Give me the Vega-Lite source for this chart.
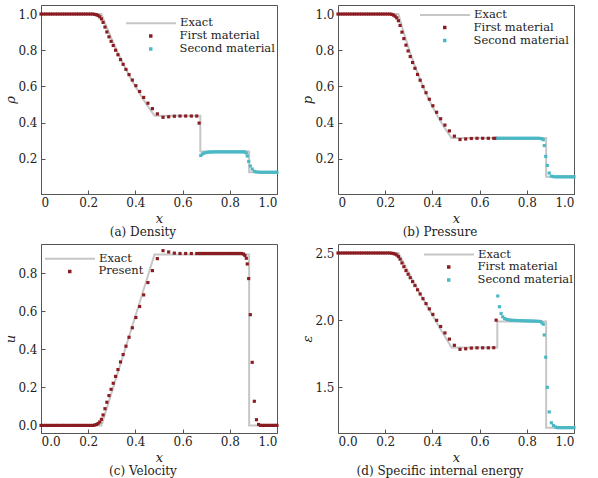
{
  "$schema": "https://vega.github.io/schema/vega-lite/v6.json",
  "padding": {"left": 4, "top": 4, "right": 5, "bottom": 0},
  "config": {
    "font": "DejaVu Serif",
    "view": {"stroke": "#555555", "strokeWidth": 1},
    "axis": {
      "grid": false,
      "domain": false,
      "tickSize": -4,
      "tickColor": "#555555",
      "labelFont": "DejaVu Serif",
      "labelFontSize": 12,
      "labelColor": "#222222",
      "titleFont": "DejaVu Serif",
      "titleFontSize": 13,
      "titleFontStyle": "italic",
      "titleFontWeight": "normal",
      "titleColor": "#222222"
    },
    "axisX": {"labelPadding": 7, "titlePadding": 4},
    "axisY": {"labelPadding": 8, "titlePadding": 0},
    "legend": {
      "labelFont": "DejaVu Serif",
      "labelFontSize": 11.5,
      "labelColor": "#222222",
      "rowPadding": 0,
      "padding": 0,
      "clipHeight": 12.6
    },
    "title": {
      "font": "DejaVu Serif",
      "fontSize": 12,
      "fontWeight": "normal",
      "color": "#222222",
      "orient": "bottom",
      "anchor": "middle",
      "frame": "bounds",
      "offset": 2
    }
  },
  "datasets": {
    "exact": [
      {"i": 0, "x": 0, "rho": 1, "p": 1, "u": 0, "e": 2.5},
      {"i": 1, "x": 0.256, "rho": 1, "p": 1, "u": 0, "e": 2.5},
      {"i": 2, "x": 0.275, "rho": 0.9374, "p": 0.9135, "u": 0.076, "e": 2.436},
      {"i": 3, "x": 0.3, "rho": 0.8599, "p": 0.8095, "u": 0.176, "e": 2.353},
      {"i": 4, "x": 0.325, "rho": 0.7875, "p": 0.7157, "u": 0.276, "e": 2.272},
      {"i": 5, "x": 0.35, "rho": 0.7201, "p": 0.6314, "u": 0.376, "e": 2.192},
      {"i": 6, "x": 0.375, "rho": 0.6574, "p": 0.5559, "u": 0.476, "e": 2.114},
      {"i": 7, "x": 0.4, "rho": 0.5991, "p": 0.4881, "u": 0.576, "e": 2.037},
      {"i": 8, "x": 0.425, "rho": 0.5451, "p": 0.4276, "u": 0.676, "e": 1.961},
      {"i": 9, "x": 0.45, "rho": 0.495, "p": 0.3737, "u": 0.776, "e": 1.887},
      {"i": 10, "x": 0.481, "rho": 0.438, "p": 0.315, "u": 0.9, "e": 1.797},
      {"i": 11, "x": 0.675, "rho": 0.438, "p": 0.315, "u": 0.9, "e": 1.797},
      {"i": 12, "x": 0.675, "rho": 0.24, "p": 0.315, "u": 0.9, "e": 1.99},
      {"i": 13, "x": 0.882, "rho": 0.24, "p": 0.315, "u": 0.9, "e": 1.99},
      {"i": 14, "x": 0.882, "rho": 0.125, "p": 0.1, "u": 0, "e": 1.2},
      {"i": 15, "x": 1.0, "rho": 0.125, "p": 0.1, "u": 0, "e": 1.2}
    ],
    "cells": [
      {"x": 0.0, "rho": 1, "p": 1, "u": 0, "e": 2.5, "m": "First material"},
      {"x": 0.01, "rho": 1, "p": 1, "u": 0, "e": 2.5, "m": "First material"},
      {"x": 0.02, "rho": 1, "p": 1, "u": 0, "e": 2.5, "m": "First material"},
      {"x": 0.03, "rho": 1, "p": 1, "u": 0, "e": 2.5, "m": "First material"},
      {"x": 0.04, "rho": 1, "p": 1, "u": 0, "e": 2.5, "m": "First material"},
      {"x": 0.05, "rho": 1, "p": 1, "u": 0, "e": 2.5, "m": "First material"},
      {"x": 0.06, "rho": 1, "p": 1, "u": 0, "e": 2.5, "m": "First material"},
      {"x": 0.07, "rho": 1, "p": 1, "u": 0, "e": 2.5, "m": "First material"},
      {"x": 0.08, "rho": 1, "p": 1, "u": 0, "e": 2.5, "m": "First material"},
      {"x": 0.09, "rho": 1, "p": 1, "u": 0, "e": 2.5, "m": "First material"},
      {"x": 0.1, "rho": 1, "p": 1, "u": 0, "e": 2.5, "m": "First material"},
      {"x": 0.11, "rho": 1, "p": 1, "u": 0, "e": 2.5, "m": "First material"},
      {"x": 0.12, "rho": 1, "p": 1, "u": 0, "e": 2.5, "m": "First material"},
      {"x": 0.13, "rho": 1, "p": 1, "u": 0, "e": 2.5, "m": "First material"},
      {"x": 0.14, "rho": 1, "p": 1, "u": 0, "e": 2.5, "m": "First material"},
      {"x": 0.15, "rho": 1, "p": 1, "u": 0, "e": 2.5, "m": "First material"},
      {"x": 0.16, "rho": 1, "p": 1, "u": 0, "e": 2.5, "m": "First material"},
      {"x": 0.17, "rho": 1, "p": 1, "u": 0, "e": 2.5, "m": "First material"},
      {"x": 0.18, "rho": 1, "p": 1, "u": 0, "e": 2.5, "m": "First material"},
      {"x": 0.19, "rho": 1, "p": 1, "u": 0, "e": 2.5, "m": "First material"},
      {"x": 0.2, "rho": 1, "p": 1, "u": 0, "e": 2.5, "m": "First material"},
      {"x": 0.21, "rho": 1, "p": 1, "u": 0, "e": 2.5, "m": "First material"},
      {"x": 0.22, "rho": 1, "p": 1, "u": 0, "e": 2.5, "m": "First material"},
      {"x": 0.228, "rho": 0.998, "p": 0.998, "u": 0.002, "e": 2.498, "m": "First material"},
      {"x": 0.235, "rho": 0.996, "p": 0.994, "u": 0.005, "e": 2.496, "m": "First material"},
      {"x": 0.242, "rho": 0.992, "p": 0.988, "u": 0.01, "e": 2.492, "m": "First material"},
      {"x": 0.249, "rho": 0.985, "p": 0.979, "u": 0.018, "e": 2.485, "m": "First material"},
      {"x": 0.256, "rho": 0.973, "p": 0.963, "u": 0.032, "e": 2.473, "m": "First material"},
      {"x": 0.263, "rho": 0.954, "p": 0.937, "u": 0.055, "e": 2.454, "m": "First material"},
      {"x": 0.271, "rho": 0.928, "p": 0.9, "u": 0.088, "e": 2.426, "m": "First material"},
      {"x": 0.279, "rho": 0.901, "p": 0.864, "u": 0.122, "e": 2.398, "m": "First material"},
      {"x": 0.288, "rho": 0.874, "p": 0.828, "u": 0.157, "e": 2.369, "m": "First material"},
      {"x": 0.297, "rho": 0.849, "p": 0.796, "u": 0.19, "e": 2.342, "m": "First material"},
      {"x": 0.306, "rho": 0.826, "p": 0.765, "u": 0.222, "e": 2.316, "m": "First material"},
      {"x": 0.316, "rho": 0.8, "p": 0.732, "u": 0.258, "e": 2.287, "m": "First material"},
      {"x": 0.326, "rho": 0.775, "p": 0.7, "u": 0.294, "e": 2.258, "m": "First material"},
      {"x": 0.337, "rho": 0.748, "p": 0.666, "u": 0.334, "e": 2.226, "m": "First material"},
      {"x": 0.348, "rho": 0.722, "p": 0.634, "u": 0.373, "e": 2.195, "m": "First material"},
      {"x": 0.36, "rho": 0.694, "p": 0.599, "u": 0.417, "e": 2.16, "m": "First material"},
      {"x": 0.373, "rho": 0.665, "p": 0.565, "u": 0.464, "e": 2.123, "m": "First material"},
      {"x": 0.387, "rho": 0.635, "p": 0.529, "u": 0.514, "e": 2.084, "m": "First material"},
      {"x": 0.402, "rho": 0.604, "p": 0.493, "u": 0.568, "e": 2.043, "m": "First material"},
      {"x": 0.418, "rho": 0.572, "p": 0.457, "u": 0.626, "e": 1.999, "m": "First material"},
      {"x": 0.435, "rho": 0.539, "p": 0.421, "u": 0.687, "e": 1.953, "m": "First material"},
      {"x": 0.453, "rho": 0.507, "p": 0.386, "u": 0.752, "e": 1.905, "m": "First material"},
      {"x": 0.472, "rho": 0.477, "p": 0.354, "u": 0.815, "e": 1.859, "m": "First material"},
      {"x": 0.493, "rho": 0.448, "p": 0.325, "u": 0.878, "e": 1.813, "m": "First material"},
      {"x": 0.517, "rho": 0.429, "p": 0.306, "u": 0.92, "e": 1.783, "m": "First material"},
      {"x": 0.541, "rho": 0.432, "p": 0.309, "u": 0.913, "e": 1.787, "m": "First material"},
      {"x": 0.565, "rho": 0.435, "p": 0.312, "u": 0.907, "e": 1.792, "m": "First material"},
      {"x": 0.589, "rho": 0.436, "p": 0.313, "u": 0.905, "e": 1.794, "m": "First material"},
      {"x": 0.613, "rho": 0.436, "p": 0.313, "u": 0.905, "e": 1.794, "m": "First material"},
      {"x": 0.637, "rho": 0.436, "p": 0.313, "u": 0.905, "e": 1.794, "m": "First material"},
      {"x": 0.66, "rho": 0.436, "p": 0.313, "u": 0.905, "e": 1.795, "m": "First material"},
      {"x": 0.67, "rho": 0.397, "p": 0.313, "u": 0.905, "e": 2.0, "m": "First material"},
      {"x": 0.677, "rho": 0.218, "p": 0.313, "u": 0.905, "e": 2.18, "m": "Second material"},
      {"x": 0.684, "rho": 0.226, "p": 0.313, "u": 0.905, "e": 2.1, "m": "Second material"},
      {"x": 0.691, "rho": 0.231, "p": 0.313, "u": 0.905, "e": 2.05, "m": "Second material"},
      {"x": 0.698, "rho": 0.234, "p": 0.313, "u": 0.905, "e": 2.025, "m": "Second material"},
      {"x": 0.706, "rho": 0.236, "p": 0.313, "u": 0.905, "e": 2.012, "m": "Second material"},
      {"x": 0.714, "rho": 0.237, "p": 0.313, "u": 0.905, "e": 2.006, "m": "Second material"},
      {"x": 0.722, "rho": 0.237, "p": 0.313, "u": 0.905, "e": 2.003, "m": "Second material"},
      {"x": 0.73, "rho": 0.238, "p": 0.313, "u": 0.905, "e": 2.0, "m": "Second material"},
      {"x": 0.738, "rho": 0.238, "p": 0.313, "u": 0.905, "e": 1.999, "m": "Second material"},
      {"x": 0.746, "rho": 0.238, "p": 0.313, "u": 0.905, "e": 1.998, "m": "Second material"},
      {"x": 0.754, "rho": 0.238, "p": 0.313, "u": 0.905, "e": 1.998, "m": "Second material"},
      {"x": 0.762, "rho": 0.238, "p": 0.313, "u": 0.905, "e": 1.997, "m": "Second material"},
      {"x": 0.77, "rho": 0.238, "p": 0.313, "u": 0.905, "e": 1.997, "m": "Second material"},
      {"x": 0.778, "rho": 0.238, "p": 0.313, "u": 0.905, "e": 1.996, "m": "Second material"},
      {"x": 0.786, "rho": 0.238, "p": 0.313, "u": 0.905, "e": 1.996, "m": "Second material"},
      {"x": 0.794, "rho": 0.238, "p": 0.313, "u": 0.905, "e": 1.995, "m": "Second material"},
      {"x": 0.802, "rho": 0.238, "p": 0.313, "u": 0.905, "e": 1.995, "m": "Second material"},
      {"x": 0.81, "rho": 0.238, "p": 0.313, "u": 0.905, "e": 1.994, "m": "Second material"},
      {"x": 0.818, "rho": 0.238, "p": 0.313, "u": 0.905, "e": 1.994, "m": "Second material"},
      {"x": 0.826, "rho": 0.238, "p": 0.313, "u": 0.905, "e": 1.993, "m": "Second material"},
      {"x": 0.834, "rho": 0.238, "p": 0.313, "u": 0.905, "e": 1.993, "m": "Second material"},
      {"x": 0.842, "rho": 0.238, "p": 0.313, "u": 0.905, "e": 1.992, "m": "Second material"},
      {"x": 0.85, "rho": 0.238, "p": 0.313, "u": 0.905, "e": 1.991, "m": "Second material"},
      {"x": 0.858, "rho": 0.238, "p": 0.312, "u": 0.902, "e": 1.99, "m": "Second material"},
      {"x": 0.864, "rho": 0.237, "p": 0.311, "u": 0.895, "e": 1.98, "m": "Second material"},
      {"x": 0.87, "rho": 0.232, "p": 0.305, "u": 0.88, "e": 1.97, "m": "Second material"},
      {"x": 0.874, "rho": 0.215, "p": 0.273, "u": 0.85, "e": 1.89, "m": "Second material"},
      {"x": 0.88, "rho": 0.185, "p": 0.213, "u": 0.773, "e": 1.724, "m": "Second material"},
      {"x": 0.887, "rho": 0.16, "p": 0.163, "u": 0.583, "e": 1.5, "m": "Second material"},
      {"x": 0.895, "rho": 0.143, "p": 0.121, "u": 0.332, "e": 1.317, "m": "Second material"},
      {"x": 0.904, "rho": 0.13, "p": 0.104, "u": 0.127, "e": 1.236, "m": "Second material"},
      {"x": 0.913, "rho": 0.127, "p": 0.101, "u": 0.03, "e": 1.216, "m": "Second material"},
      {"x": 0.922, "rho": 0.126, "p": 0.1, "u": 0.005, "e": 1.205, "m": "Second material"},
      {"x": 0.93, "rho": 0.125, "p": 0.1, "u": 0, "e": 1.2, "m": "Second material"},
      {"x": 0.938, "rho": 0.125, "p": 0.1, "u": 0, "e": 1.2, "m": "Second material"},
      {"x": 0.946, "rho": 0.125, "p": 0.1, "u": 0, "e": 1.2, "m": "Second material"},
      {"x": 0.954, "rho": 0.125, "p": 0.1, "u": 0, "e": 1.2, "m": "Second material"},
      {"x": 0.962, "rho": 0.125, "p": 0.1, "u": 0, "e": 1.2, "m": "Second material"},
      {"x": 0.97, "rho": 0.125, "p": 0.1, "u": 0, "e": 1.2, "m": "Second material"},
      {"x": 0.978, "rho": 0.125, "p": 0.1, "u": 0, "e": 1.2, "m": "Second material"},
      {"x": 0.986, "rho": 0.125, "p": 0.1, "u": 0, "e": 1.2, "m": "Second material"},
      {"x": 0.994, "rho": 0.125, "p": 0.1, "u": 0, "e": 1.2, "m": "Second material"},
      {"x": 1.0, "rho": 0.125, "p": 0.1, "u": 0, "e": 1.2, "m": "Second material"}
    ]
  },
  "resolve": {"scale": {"color": "independent", "stroke": "independent"}, "legend": {"color": "independent", "stroke": "independent"}},
  "spacing": 4,
  "vconcat": [
    {
      "resolve": {"scale": {"color": "independent", "stroke": "independent"}, "legend": {"color": "independent", "stroke": "independent"}},
      "spacing": 19,
      "hconcat": [
        {
          "width": 236,
          "height": 189,
          "title": {"text": "(a) Density"},
          "layer": [
            {
              "data": {"name": "exact"},
              "mark": {"type": "line", "strokeWidth": 2},
              "encoding": {
                "x": {"field": "x", "type": "quantitative", "scale": {"domain": [0, 1], "nice": false}, "axis": {"title": "x", "values": [0, 0.2, 0.4, 0.6, 0.8, 1.0], "labelExpr": "datum.value == 0 ? '0' : format(datum.value, '.1f')"}},
                "y": {"field": "rho", "type": "quantitative", "scale": {"domain": [0.005, 1.05], "nice": false, "zero": false}, "axis": {"title": "ρ", "values": [0.2, 0.4, 0.6, 0.8, 1.0], "format": ".1f"}},
                "order": {"field": "i"},
                "stroke": {"datum": "Exact", "type": "nominal", "scale": {"domain": ["Exact"], "range": ["#c6c6c6"]},
                  "legend": {"title": null, "orient": "none", "legendX": 84, "legendY": 12, "symbolType": "stroke", "symbolSize": 2500, "symbolStrokeWidth": 2, "labelOffset": 3}}
              }
            },
            {
              "data": {"name": "cells"},
              "mark": {"type": "square", "size": 10, "opacity": 1},
              "encoding": {
                "x": {"field": "x", "type": "quantitative"},
                "y": {"field": "rho", "type": "quantitative"},
                "color": {"field": "m", "type": "nominal", "scale": {"domain": ["First material", "Second material"], "range": ["#8a1c22", "#4cb8c6"]},
                  "legend": {"title": null, "orient": "none", "legendX": 84, "legendY": 24.6, "symbolType": "square", "symbolSize": 12, "symbolOffset": 20, "labelOffset": 23}}
              }
            }
          ]
        },
        {
          "width": 236,
          "height": 189,
          "title": {"text": "(b) Pressure"},
          "layer": [
            {
              "data": {"name": "exact"},
              "mark": {"type": "line", "strokeWidth": 2},
              "encoding": {
                "x": {"field": "x", "type": "quantitative", "scale": {"domain": [0, 1], "nice": false}, "axis": {"title": "x", "values": [0, 0.2, 0.4, 0.6, 0.8, 1.0], "labelExpr": "datum.value == 0 ? '0' : format(datum.value, '.1f')"}},
                "y": {"field": "p", "type": "quantitative", "scale": {"domain": [0.005, 1.05], "nice": false, "zero": false}, "axis": {"title": "p", "values": [0.2, 0.4, 0.6, 0.8, 1.0], "format": ".1f"}},
                "order": {"field": "i"},
                "stroke": {"datum": "Exact", "type": "nominal", "scale": {"domain": ["Exact"], "range": ["#c6c6c6"]},
                  "legend": {"title": null, "orient": "none", "legendX": 81, "legendY": 3.7, "symbolType": "stroke", "symbolSize": 2500, "symbolStrokeWidth": 2, "labelOffset": 3}}
              }
            },
            {
              "data": {"name": "cells"},
              "mark": {"type": "square", "size": 10, "opacity": 1},
              "encoding": {
                "x": {"field": "x", "type": "quantitative"},
                "y": {"field": "p", "type": "quantitative"},
                "color": {"field": "m", "type": "nominal", "scale": {"domain": ["First material", "Second material"], "range": ["#8a1c22", "#4cb8c6"]},
                  "legend": {"title": null, "orient": "none", "legendX": 81, "legendY": 16.3, "symbolType": "square", "symbolSize": 12, "symbolOffset": 20, "labelOffset": 23}}
              }
            }
          ]
        }
      ]
    },
    {
      "resolve": {"scale": {"color": "independent", "stroke": "independent"}, "legend": {"color": "independent", "stroke": "independent"}},
      "spacing": 19,
      "hconcat": [
        {
          "width": 236,
          "height": 189,
          "title": {"text": "(c) Velocity"},
          "layer": [
            {
              "data": {"name": "exact"},
              "mark": {"type": "line", "strokeWidth": 2},
              "encoding": {
                "x": {"field": "x", "type": "quantitative", "scale": {"domain": [0, 1], "nice": false}, "axis": {"title": "x", "values": [0, 0.2, 0.4, 0.6, 0.8, 1.0], "format": ".1f"}},
                "y": {"field": "u", "type": "quantitative", "scale": {"domain": [-0.04, 0.955], "nice": false, "zero": false}, "axis": {"title": "u", "values": [0, 0.2, 0.4, 0.6, 0.8], "format": ".1f"}},
                "order": {"field": "i"},
                "stroke": {"datum": "Exact", "type": "nominal", "scale": {"domain": ["Exact"], "range": ["#c6c6c6"]},
                  "legend": {"title": null, "orient": "none", "legendX": 3, "legendY": 8.5, "symbolType": "stroke", "symbolSize": 2500, "symbolStrokeWidth": 2, "labelOffset": 3}}
              }
            },
            {
              "data": {"name": "cells"},
              "mark": {"type": "square", "size": 10, "opacity": 1},
              "encoding": {
                "x": {"field": "x", "type": "quantitative"},
                "y": {"field": "u", "type": "quantitative"},
                "color": {"datum": "Present", "type": "nominal", "scale": {"domain": ["Present"], "range": ["#8a1c22"]},
                  "legend": {"title": null, "orient": "none", "legendX": 3, "legendY": 21.1, "symbolType": "square", "symbolSize": 12, "symbolOffset": 20, "labelOffset": 23}}
              }
            }
          ]
        },
        {
          "width": 236,
          "height": 189,
          "title": {"text": "(d) Specific internal energy"},
          "layer": [
            {
              "data": {"name": "exact"},
              "mark": {"type": "line", "strokeWidth": 2},
              "encoding": {
                "x": {"field": "x", "type": "quantitative", "scale": {"domain": [0, 1], "nice": false}, "axis": {"title": "x", "values": [0, 0.2, 0.4, 0.6, 0.8, 1.0], "format": ".1f"}},
                "y": {"field": "e", "type": "quantitative", "scale": {"domain": [1.16, 2.567], "nice": false, "zero": false}, "axis": {"title": "ε", "values": [1.5, 2.0, 2.5], "format": ".1f"}},
                "order": {"field": "i"},
                "stroke": {"datum": "Exact", "type": "nominal", "scale": {"domain": ["Exact"], "range": ["#c6c6c6"]},
                  "legend": {"title": null, "orient": "none", "legendX": 85, "legendY": 4.2, "symbolType": "stroke", "symbolSize": 2500, "symbolStrokeWidth": 2, "labelOffset": 3}}
              }
            },
            {
              "data": {"name": "cells"},
              "mark": {"type": "square", "size": 10, "opacity": 1},
              "encoding": {
                "x": {"field": "x", "type": "quantitative"},
                "y": {"field": "e", "type": "quantitative"},
                "color": {"field": "m", "type": "nominal", "scale": {"domain": ["First material", "Second material"], "range": ["#8a1c22", "#4cb8c6"]},
                  "legend": {"title": null, "orient": "none", "legendX": 85, "legendY": 16.8, "symbolType": "square", "symbolSize": 12, "symbolOffset": 20, "labelOffset": 23}}
              }
            }
          ]
        }
      ]
    }
  ]
}
